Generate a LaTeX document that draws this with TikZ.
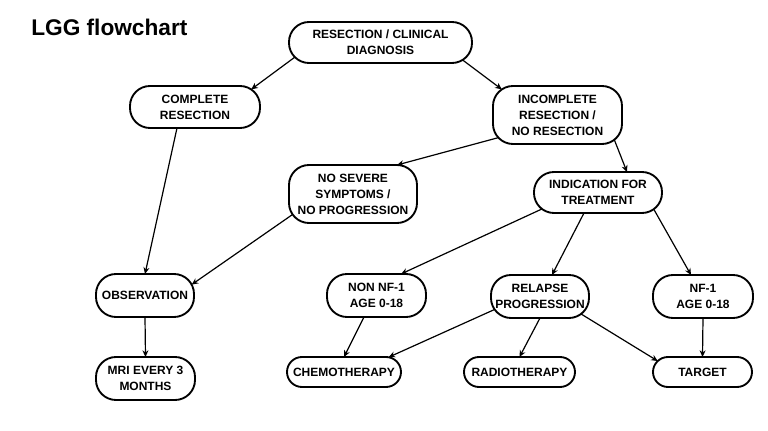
\documentclass[tikz,border=0pt]{standalone}
\usepackage{fontspec}
\setmainfont{Liberation Sans}
\usepackage{tikz}
\usetikzlibrary{arrows.meta,calc}

\begin{document}
\begin{tikzpicture}[x=0.75pt, y=0.75pt,
  box/.style={draw, line width=1.4pt, rounded corners=15pt, fill=white, align=center, inner sep=1pt, outer sep=0pt, font=\bfseries\fontsize{9}{12}\selectfont},
  smallbox/.style={box, rounded corners=11.25pt, minimum height=22.5pt},
  arr/.style={-{Stealth[length=5pt, width=4.5pt]}, line width=0.9pt}]
\useasboundingbox (0,0) rectangle (768,431);
\node[anchor=base west, inner sep=0pt, font=\bfseries\fontsize{17}{20}\selectfont] (title) at (31,395) {LGG flowchart};
% first level
\node[box, minimum width=137.25pt, minimum height=30.75pt] (diag) at (380.5,388.5) {RESECTION / CLINICAL\\DIAGNOSIS};
\node[box, minimum width=97.5pt, minimum height=31.5pt] (comp) at (195,324) {COMPLETE\\RESECTION};
\node[box, minimum width=96.75pt, minimum height=43.5pt] (incomp) at (557.5,316) {INCOMPLETE\\RESECTION /\\NO RESECTION};
\node[box, minimum width=96pt, minimum height=43.5pt] (nosev) at (353,237) {NO SEVERE\\SYMPTOMS /\\NO PROGRESSION};
\node[box, minimum width=96pt, minimum height=30.75pt] (ind) at (598,238.5) {INDICATION FOR\\TREATMENT};
% second level
\node[box, minimum width=73.5pt, minimum height=32.25pt] (obs) at (145,135.5) {OBSERVATION};
\node[box, minimum width=74.25pt, minimum height=32.25pt] (mri) at (145.5,52.5) {MRI EVERY 3\\MONTHS};
\node[box, minimum width=74.25pt, minimum height=32.25pt] (nonnf) at (376.5,135.5) {NON NF-1\\AGE 0-18};
\node[box, minimum width=73.5pt, minimum height=32.25pt] (relapse) at (540,134.5) {RELAPSE\\PROGRESSION};
\node[box, minimum width=75pt, minimum height=32.25pt] (nf1) at (703,134.5) {NF-1\\AGE 0-18};
% treatments
\node[smallbox, minimum width=85.5pt] (chemo) at (344,59) {CHEMOTHERAPY};
\node[smallbox, minimum width=83.25pt] (radio) at (519.5,59) {RADIOTHERAPY};
\node[smallbox, minimum width=74.25pt] (target) at (702.5,59) {TARGET};
% connectors
\draw[arr] ($(diag.south west)+(20,20)+(225:20)$) -- ($(comp.north east)+(-20,-20)+(56:20)$);
\draw[arr] ($(diag.south east)+(-20,20)+(-58:20)$) -- ($(incomp.north west)+(20,-20)+(124:20)$);
\draw[arr] ($(comp.south)+(-18,0)$) -- (obs.north);
\draw[arr] ($(incomp.south west)+(20,20)+(223:20)$) -- ($(nosev.north east)+(-20,0)$);
\draw[arr] ($(incomp.south east)+(-20,20)+(-52:20)$) -- ($(ind.north)+(29,0)$);
\draw[arr] ($(nosev.south west)+(20,20)+(215:20)$) -- ($(obs.north east)+(-20,-20)+(28:20)$);
\draw[arr] (obs.south) -- (mri.north);
\draw[arr] ($(ind.south west)+(20,20)+(233:20)$) -- ($(nonnf.north)+(24.5,0)$);
\draw[arr] ($(ind.south)+(-14,0)$) -- ($(relapse.north)+(12,0)$);
\draw[arr] ($(ind.south east)+(-20,20)+(-54:20)$) -- ($(nf1.north)+(-12,0)$);
\draw[arr] ($(nonnf.south)+(-12.5,0)$) -- (chemo.north);
\draw[arr] ($(relapse.south west)+(20,20)+(215:20)$) -- ($(chemo.north east)+(-15,-15)+(80:15)$);
\draw[arr] (relapse.south) -- (radio.north);
\draw[arr] ($(relapse.south east)+(-20,20)+(-53:20)$) -- ($(target.north west)+(15,-15)+(133:15)$);
\draw[arr] (nf1.south) -- (target.north);
\end{tikzpicture}
\end{document}
